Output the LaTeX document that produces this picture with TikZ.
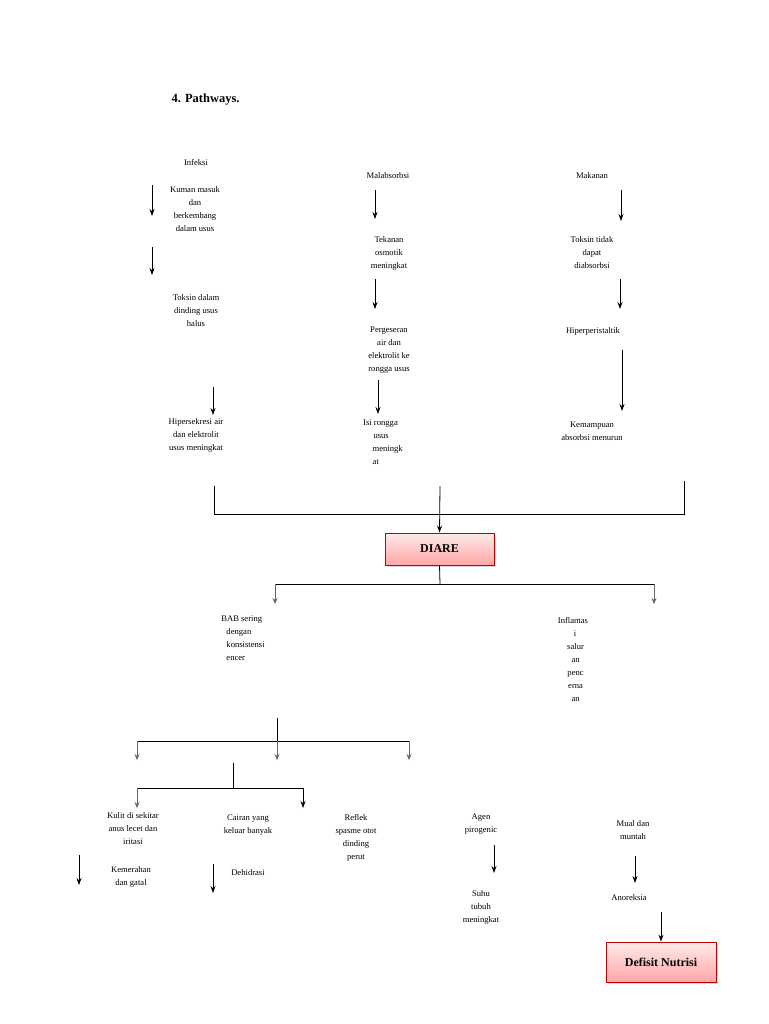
\documentclass[tikz,border=0pt]{standalone}
\usepackage{fontspec}
\setmainfont{Liberation Serif}
\usetikzlibrary{arrows.meta,shadows}
\begin{document}
\begin{tikzpicture}[x=1pt,y=-1pt,
  txt/.style={align=center,font=\fontsize{8.6}{13}\selectfont,inner sep=0pt},
  arr/.style={-{Stealth[length=7pt,width=5pt]},line width=0.8pt},
  garr/.style={-{Stealth[length=6pt,width=5pt]},line width=0.5pt,draw=black!60},
  ln/.style={line width=0.8pt},
  redbox/.style={draw=red!75!black,line width=0.8pt,top color=red!8,bottom color=red!35,drop shadow={opacity=0.3,shadow xshift=1.5pt,shadow yshift=-1.5pt},font=\bfseries\fontsize{12}{14}\selectfont,inner sep=0pt}]
\useasboundingbox (0,0) rectangle (768,1024);
\node[anchor=west,font=\bfseries\fontsize{12.5}{15}\selectfont] (title) at (168,100) {4. Pathways.};
% column 1
\node[txt] (inf) at (196,163) {Infeksi};
\node[txt] (kuman) at (195,209) {Kuman masuk\\dan\\berkembang\\dalam usus};
\node[txt] (toks1) at (196,311) {Toksin dalam\\dinding usus\\halus};
\node[txt] (hiper) at (196,435) {Hipersekresi air\\dan elektrolit\\usus meningkat};
% column 2
\node[txt] (mal) at (388,176) {Malabsorbsi};
\node[txt] (tek) at (389,253) {Tekanan\\osmotik\\meningkat};
\node[txt] (perg) at (389,350) {Pergeseran\\air dan\\elektrolit ke\\rongga usus};
\node[txt,align=left] (isi) at (383,442) {Isi rongga\\\hspace*{1.2em}usus\\\hspace*{1.1em}meningk\\\hspace*{1.1em}at};
% column 3
\node[txt] (mak) at (592,176) {Makanan};
\node[txt] (tokt) at (592,253) {Toksin tidak\\dapat\\diabsorbsi};
\node[txt] (hpp) at (593,331) {Hiperperistaltik};
\node[txt] (kem) at (592,431) {Kemampuan\\absorbsi menurun};
% arrows top
\coordinate (a1) at (152,185); \coordinate (b1) at (152,216);
\coordinate (a2) at (152,247); \coordinate (b2) at (152,275);
\coordinate (a3) at (213,387); \coordinate (b3) at (213,415);
\coordinate (a4) at (375,190); \coordinate (b4) at (375,219);
\coordinate (a5) at (375,279); \coordinate (b5) at (375,309);
\coordinate (a6) at (378,380); \coordinate (b6) at (378,414);
\coordinate (a7) at (621,190); \coordinate (b7) at (621,221);
\coordinate (a8) at (620,279); \coordinate (b8) at (620,309);
\coordinate (a9) at (622,350); \coordinate (b9) at (622,411);
\foreach \i in {1,...,9} \draw[arr] (a\i) -- (b\i);
% bracket
\node[redbox,minimum width=109pt,minimum height=32pt] (diare) at (439.5,549) {DIARE};
\coordinate (l1) at (214,486); \coordinate (l2) at (684,481);
\coordinate (m1) at (440,486);
\draw[ln] (l1) -- (214,514) -- (684,514) -- (l2);
\draw[arr] (m1) -- (diare.north);
% diare split
\coordinate (s1) at (275,604); \coordinate (s2) at (654,604);
\draw[ln] (diare.south) -- (440,584);
\draw[ln] (275,584) -- (654,584);
\draw[garr] (275,584) -- (s1);
\draw[garr] (654,584) -- (s2);
\node[txt,align=left] (bab) at (243,638) {BAB sering\\\hspace*{0.6em}dengan\\\hspace*{0.6em}konsistensi\\\hspace*{0.6em}encer};
\node[txt] (infl) at (573,660) {Inflamas\\\hspace*{0.5em}i\\\hspace*{0.6em}salur\\\hspace*{0.6em}an\\\hspace*{0.6em}penc\\\hspace*{0.6em}erna\\\hspace*{0.6em}an};
% tree 2
\coordinate (t2) at (277,718);
\coordinate (u1) at (137,760); \coordinate (u2) at (277,760); \coordinate (u3) at (409,760);
\draw[ln] (t2) -- (277,741);
\draw[ln] (137,741) -- (409,741);
\draw[garr] (137,741) -- (u1);
\draw[garr] (277,741) -- (u2);
\draw[garr] (409,741) -- (u3);
% tree 3
\coordinate (t3) at (233,763);
\coordinate (v1) at (137,808); \coordinate (v2) at (303,808);
\draw[ln] (t3) -- (233,788);
\draw[ln] (137,788) -- (303,788);
\draw[garr] (137,788) -- (v1);
\draw[arr] (303,788) -- (v2);
% bottom texts
\node[txt] (kulit) at (133,829) {Kulit di sekitar\\anus lecet dan\\iritasi};
\node[txt] (cair) at (248,825) {Cairan yang\\keluar banyak};
\node[txt] (refl) at (356,838) {Reflek\\spasme otot\\dinding\\perut};
\node[txt] (agen) at (481,824) {Agen\\pirogenic};
\node[txt] (mual) at (633,830) {Mual dan\\muntah};
\node[txt] (kemr) at (131,877) {Kemerahan\\dan gatal};
\node[txt] (dehi) at (248,873) {Dehidrasi};
\node[txt] (suhu) at (481,907) {Suhu\\tubuh\\meningkat};
\node[txt] (anor) at (629,898) {Anoreksia};
\node[redbox,minimum width=110pt,minimum height=40pt] (defi) at (661,962) {Defisit Nutrisi};
\coordinate (c1) at (79,855); \coordinate (d1) at (79,885);
\coordinate (c2) at (213,864); \coordinate (d2) at (213,893);
\coordinate (c3) at (494,845); \coordinate (d3) at (494,873);
\coordinate (c4) at (635,856); \coordinate (d4) at (635,883);
\foreach \i in {1,...,4} \draw[arr] (c\i) -- (d\i);
\coordinate (c5) at (661,912);
\draw[arr] (c5) -- (defi.north);
\end{tikzpicture}
\end{document}
